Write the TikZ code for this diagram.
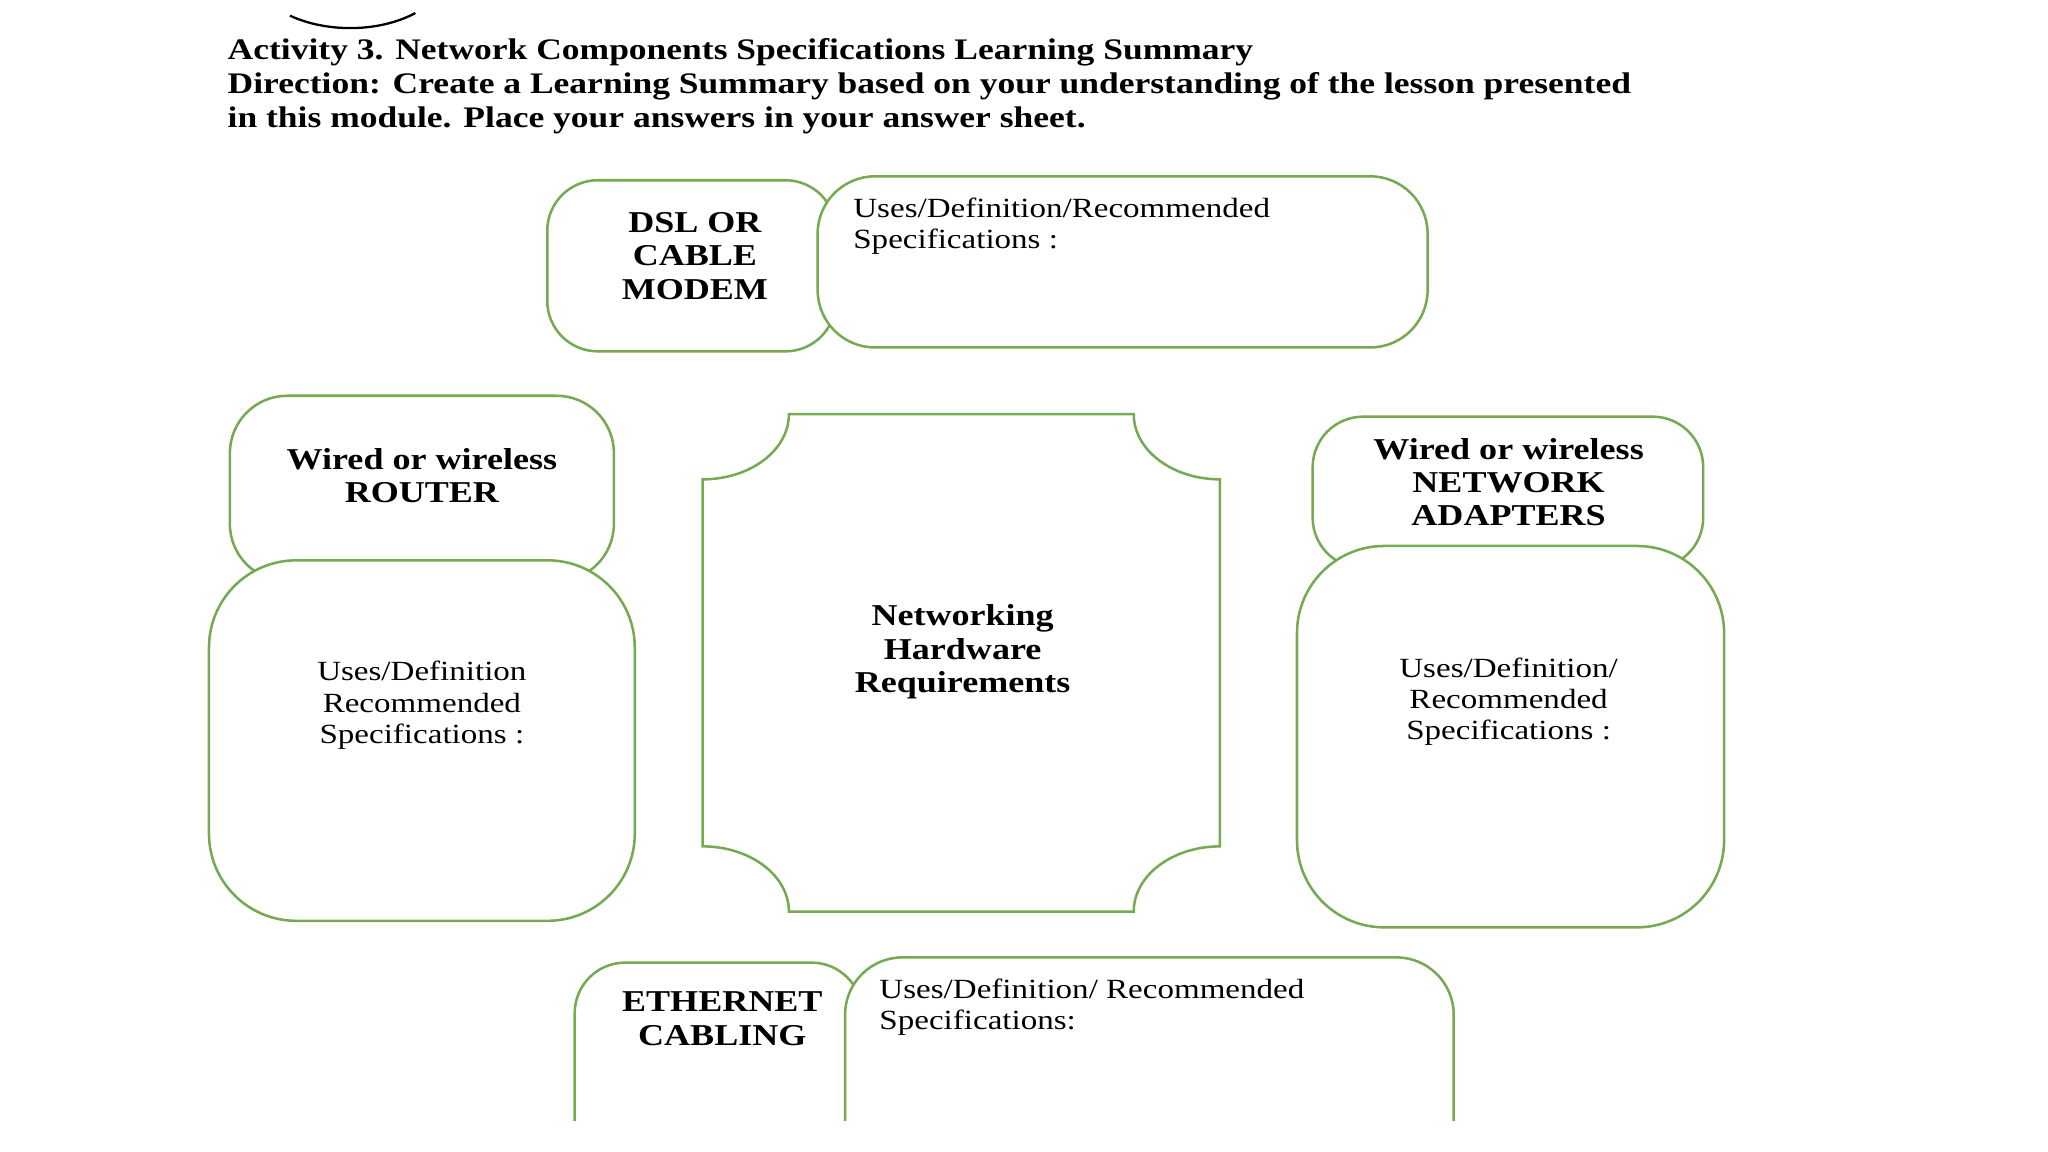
\documentclass[tikz,border=0pt]{standalone}
\usepackage{fontspec}
\setmainfont[FakeStretch=1.19]{Liberation Serif}
\definecolor{gbox}{RGB}{118,170,82}
\tikzset{x=0.02cm,y=-0.02cm,
 box/.style={draw=gbox,line width=1.1pt,fill=white},
 bold/.style={font=\fontsize{13.2}{14.5}\selectfont\bfseries,align=center},
 plain/.style={font=\fontsize{12.1}{13.6}\selectfont,align=center},
 plainl/.style={font=\fontsize{12.1}{13.6}\selectfont,align=left,anchor=north west,inner sep=0pt}}
\begin{document}
\begin{tikzpicture}
\useasboundingbox[fill=white] (0,0) rectangle (1568,882);
\draw[line width=1pt] (222,12) .. controls (250,25) and (290,25) .. (318,10);
\node[anchor=north west,inner sep=0pt,align=left,font=\fontsize{13}{14.8}\selectfont\bfseries] (title) at (174,29)
 {Activity 3. Network Components Specifications Learning Summary\\
  Direction: Create a Learning Summary based on your understanding of the lesson presented\\
  in this module. Place your answers in your answer sheet.};
% DSL
\draw[box,rounded corners=22] (419,138) rectangle (640,269);
\draw[box,rounded corners=25] (626,135) rectangle (1093,266);
\node[bold] (dsl) at (532,196) {DSL OR\\CABLE\\MODEM};
\node[plainl] (dslspec) at (653,151) {Uses/Definition/Recommended\\Specifications :};
% Router
\draw[box,rounded corners=25] (176,303) rectangle (470,445);
\draw[box,rounded corners=38] (160,429) rectangle (486,705);
\node[bold] (router) at (323,364) {Wired or wireless\\ROUTER};
\node[plain] (routerspec) at (323,540) {Uses/Definition\\Recommended\\Specifications :};
% Center
\draw[box] (604,317) -- (868,317) .. controls (868,345) and (898,367) .. (934,367)
 -- (934,648) .. controls (898,648) and (868,670) .. (868,698)
 -- (604,698) .. controls (604,670) and (574,648) .. (538,648)
 -- (538,367) .. controls (574,367) and (604,345) .. (604,317) -- cycle;
\node[bold] (center) at (737,499) {Networking\\Hardware\\Requirements};
% Adapters
\draw[box,rounded corners=22] (1005,319) rectangle (1304,435);
\draw[box,rounded corners=38] (993,418) rectangle (1320,710);
\node[bold] (adapt) at (1155,369) {Wired or wireless\\NETWORK\\ADAPTERS};
\node[plain] (adaptspec) at (1155,537) {Uses/Definition/\\Recommended\\Specifications :};
% Ethernet
\begin{scope}
\clip (0,0) rectangle (1568,858);
\draw[box,rounded corners=22] (440,737) rectangle (660,900);
\draw[box,rounded corners=25] (647,733) rectangle (1113,900);
\end{scope}
\node[bold] (eth) at (553,780) {ETHERNET\\CABLING};
\node[plainl] (ethspec) at (673,749) {Uses/Definition/ Recommended\\Specifications:};
\end{tikzpicture}
\end{document}
